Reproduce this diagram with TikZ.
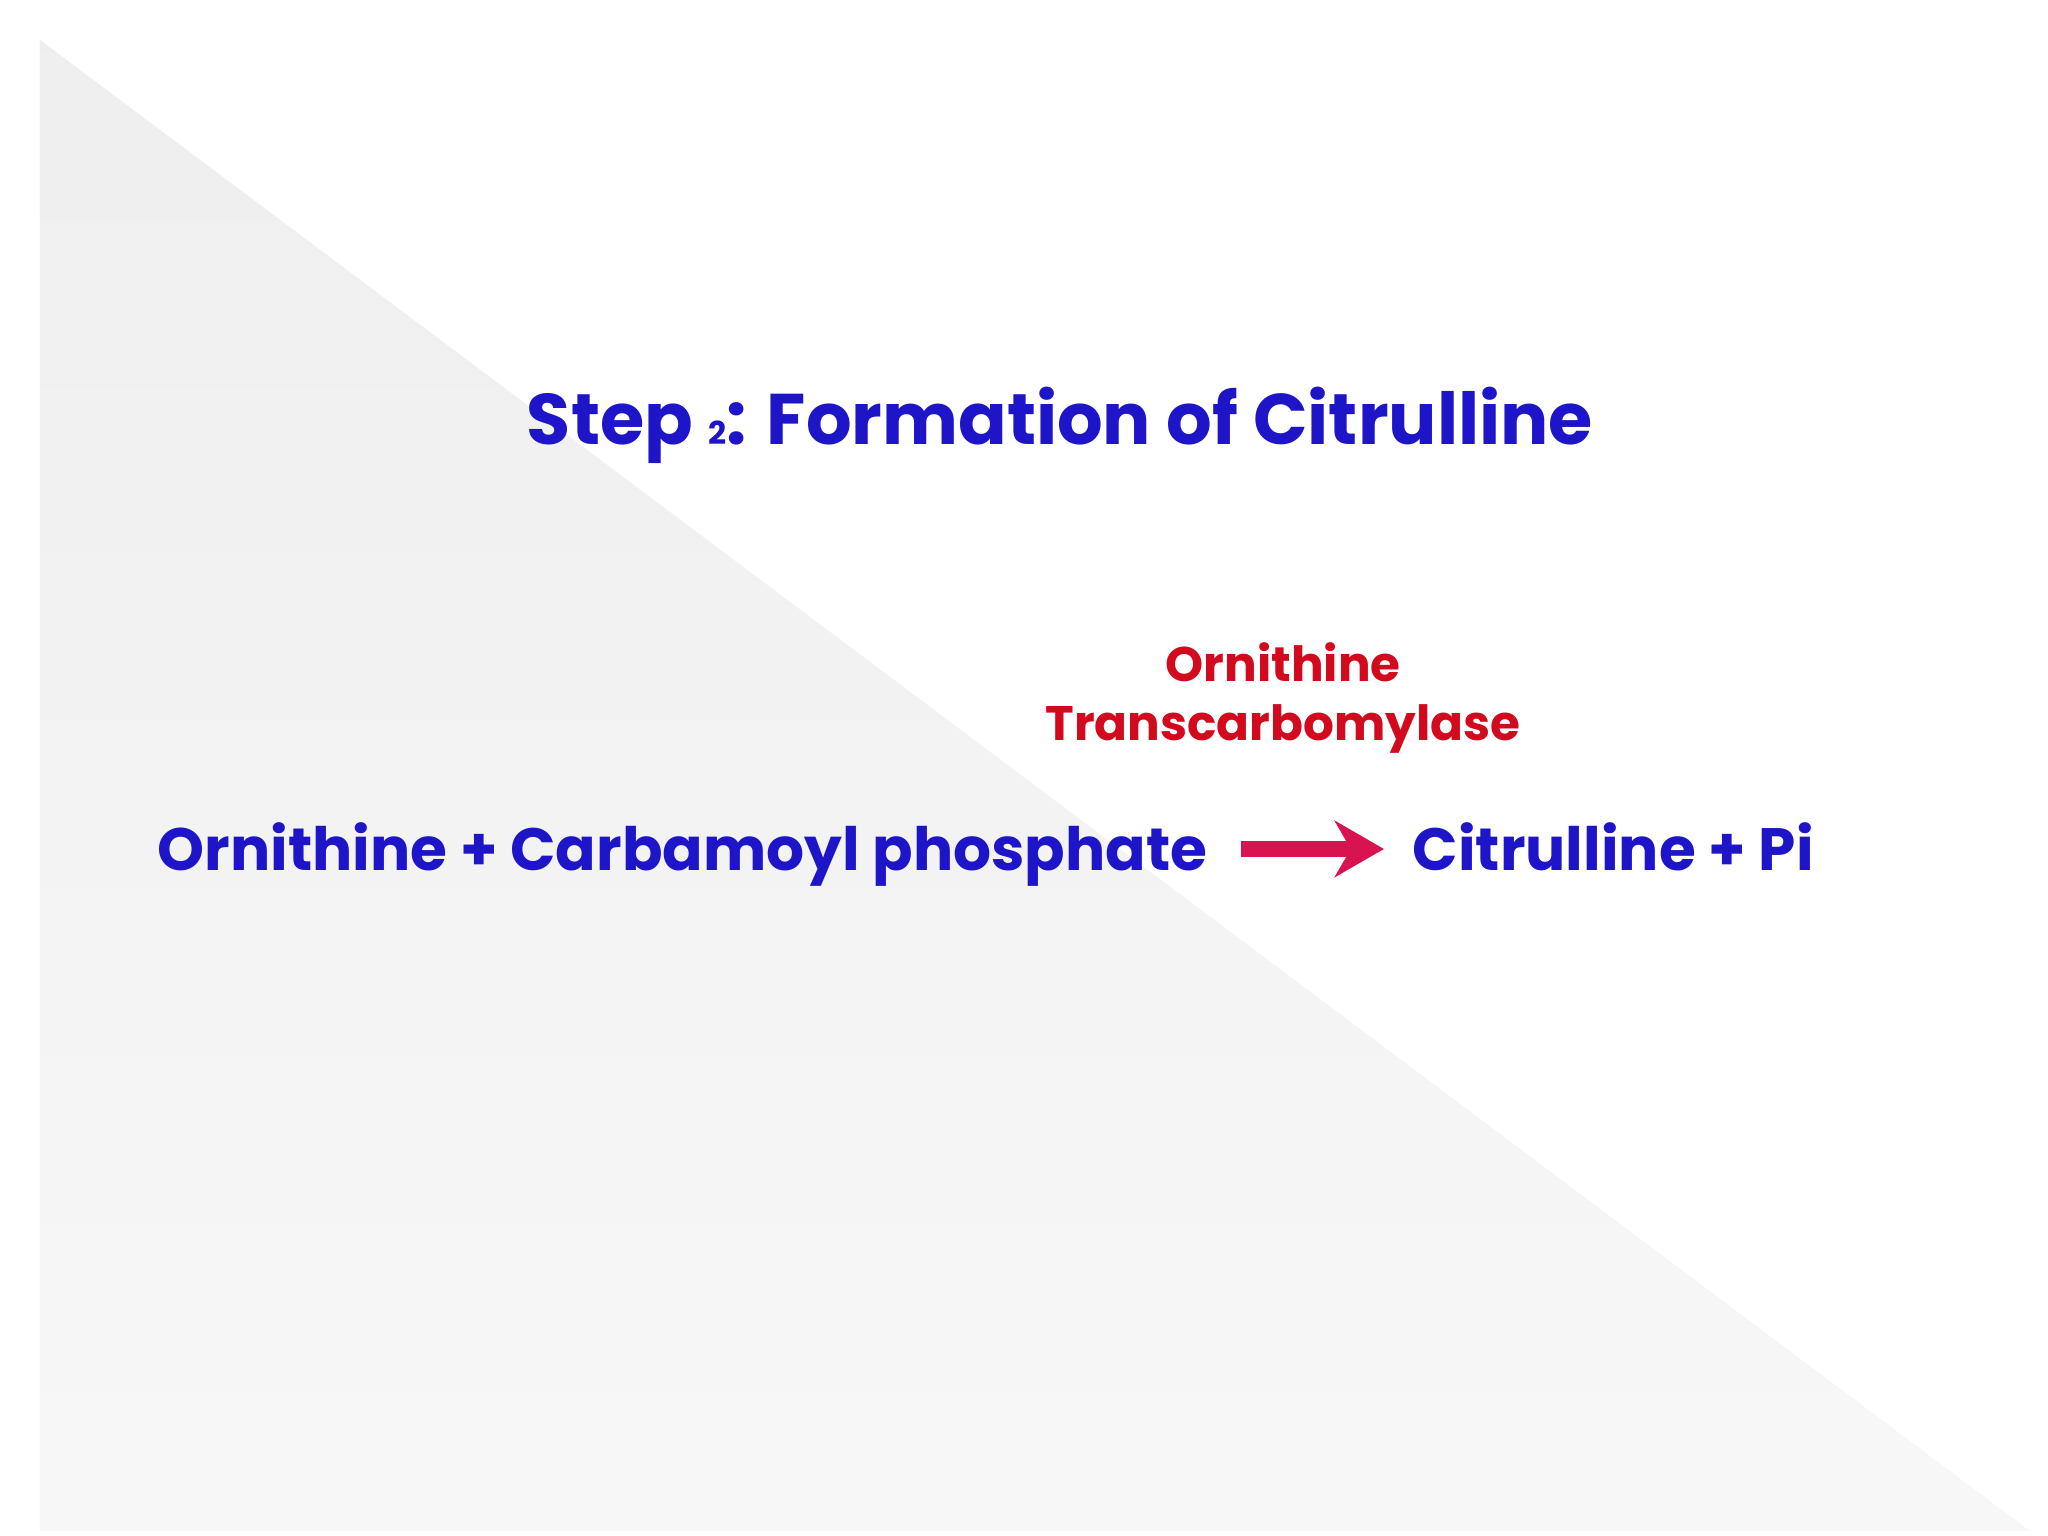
\documentclass[tikz,border=0pt]{standalone}
\usepackage{fontspec}
\usetikzlibrary{arrows.meta}
\setmainfont{Poppins}[BoldFont=* Bold]
\definecolor{tblue}{RGB}{30,20,200}
\definecolor{tred}{RGB}{210,10,30}
\definecolor{arrowred}{RGB}{215,20,80}
\begin{document}
\begin{tikzpicture}
\useasboundingbox (0,0) rectangle (20.48,15.36);
\fill[white] (0,0) rectangle (20.48,15.36);
\shade[top color=gray!13, bottom color=gray!6] (0.4,14.96) -- (20.3,0.05) -- (0.4,0.05) -- cycle;
\tikzset{eqtext/.style={font=\bfseries\fontsize{17}{20}\selectfont, text=tblue, inner sep=0pt},
         enz/.style={font=\bfseries\fontsize{13.8}{17}\selectfont, text=tred, inner sep=0pt, align=center}}
\node[font=\bfseries\fontsize{20.4}{24}\selectfont, text=tblue] (title) at (10.6,11.11) {Step {\small 2}: Formation of Citrulline};
\node[eqtext, anchor=base east] (left) at (12.08,6.65) {Ornithine + Carbamoyl phosphate};
\node[eqtext, anchor=base west] (right) at (14.12,6.65) {Citrulline + Pi};
\draw[arrowred, line width=4.5pt, -{Stealth[length=14pt,width=16pt]}] ([xshift=0.33cm,yshift=0.22cm]left.base east) -- ([xshift=-0.28cm,yshift=0.22cm]right.base west);
\node[enz] (enzyme) at (12.83,8.38) {Ornithine\\Transcarbomylase};
\end{tikzpicture}
\end{document}
